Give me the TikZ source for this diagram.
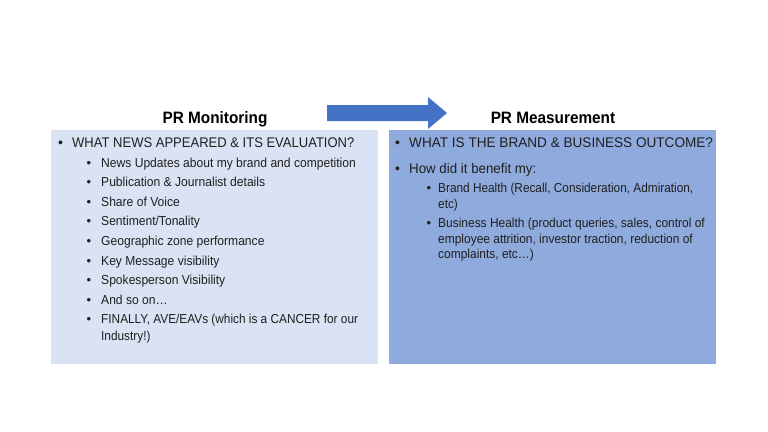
\documentclass[tikz,border=0pt]{standalone}
\usepackage{fontspec}
\setmainfont{Liberation Sans}
\definecolor{leftfill}{HTML}{DAE3F3}
\definecolor{rightfill}{HTML}{8FAADC}
\definecolor{arrowblue}{HTML}{4472C4}
\definecolor{txt}{HTML}{1F1F1F}
\newcommand{\sq}[2][0.93]{\scalebox{#1}[1]{#2}}
\begin{document}
\begin{tikzpicture}[x=1pt,y=-1pt,
  panel/.style={anchor=north west, inner sep=0pt, minimum width=327pt, minimum height=234pt},
  ttl/.style={anchor=base, inner sep=0pt, text=black, font=\fontsize{16.5}{19}\selectfont\bfseries},
  lvA/.style={anchor=base west, inner sep=0pt, text=txt, font=\fontsize{14}{16}\selectfont},
  lvB/.style={anchor=base west, inner sep=0pt, text=txt, font=\fontsize{13}{15}\selectfont}
]
\useasboundingbox (0,0) rectangle (768,431);
\fill[white] (0,0) rectangle (768,431);

% panels
\node[panel, fill=leftfill] (lbox) at (51,130) {};
\node[panel, fill=rightfill] (rbox) at (389,130) {};

% titles
\node[ttl] (t1) at (215,123) {\sq{PR Monitoring}};
\node[ttl] (t2) at (553,123) {\sq{PR Measurement}};

% block arrow
\fill[arrowblue] (327,105) -- (428,105) -- (428,97) -- (447,113) -- (428,129) -- (428,121) -- (327,121) -- cycle;

% left panel text
\node[lvA] (lb0) at (58,147) {•};
\node[lvA] (l0) at (72,147) {\sq{WHAT NEWS APPEARED \& ITS EVALUATION?}};
\foreach \n/\yy/\t in {
  1/167/{News Updates about my brand and competition},
  2/186.6/{Publication \& Journalist details},
  3/206.2/{Share of Voice},
  4/225.8/{Sentiment/Tonality},
  5/245.4/{Geographic zone performance},
  6/265/{Key Message visibility},
  7/284.6/{Spokesperson Visibility},
  8/304.2/{And so on…}}{
  \node[lvB] (lb\n) at (86.5,\yy) {•};
  \node[lvB] (l\n) at (101,\yy) {\sq{\t}};
}
\node[lvB] (lb9) at (86.5,323.8) {•};
\node[lvB] (l9) at (101,323.8) {\sq[0.91]{FINALLY, AVE/EAVs (which is a CANCER for our}};
\node[lvB] (l10) at (101,340.5) {\sq[0.91]{Industry!)}};

% right panel text
\node[lvA] (rb0) at (395,147) {•};
\node[lvA] (r0) at (409,147) {\sq[0.97]{WHAT IS THE BRAND \& BUSINESS OUTCOME?}};
\node[lvA] (rb1) at (395,173) {•};
\node[lvA] (r1) at (409,173) {\sq[0.95]{How did it benefit my:}};
\node[lvB] (rb2) at (426.5,192.5) {•};
\node[lvB] (r2) at (438,192.5) {\sq[0.91]{Brand Health (Recall, Consideration, Admiration,}};
\node[lvB] (r3) at (438,208.5) {\sq[0.91]{etc)}};
\node[lvB] (rb4) at (426.5,227.5) {•};
\node[lvB] (r4) at (438,227.5) {\sq[0.92]{Business Health (product queries, sales, control of}};
\node[lvB] (r5) at (438,243) {\sq[0.92]{employee attrition, investor traction, reduction of}};
\node[lvB] (r6) at (438,258.5) {\sq[0.92]{complaints, etc…)}};
\end{tikzpicture}
\end{document}
